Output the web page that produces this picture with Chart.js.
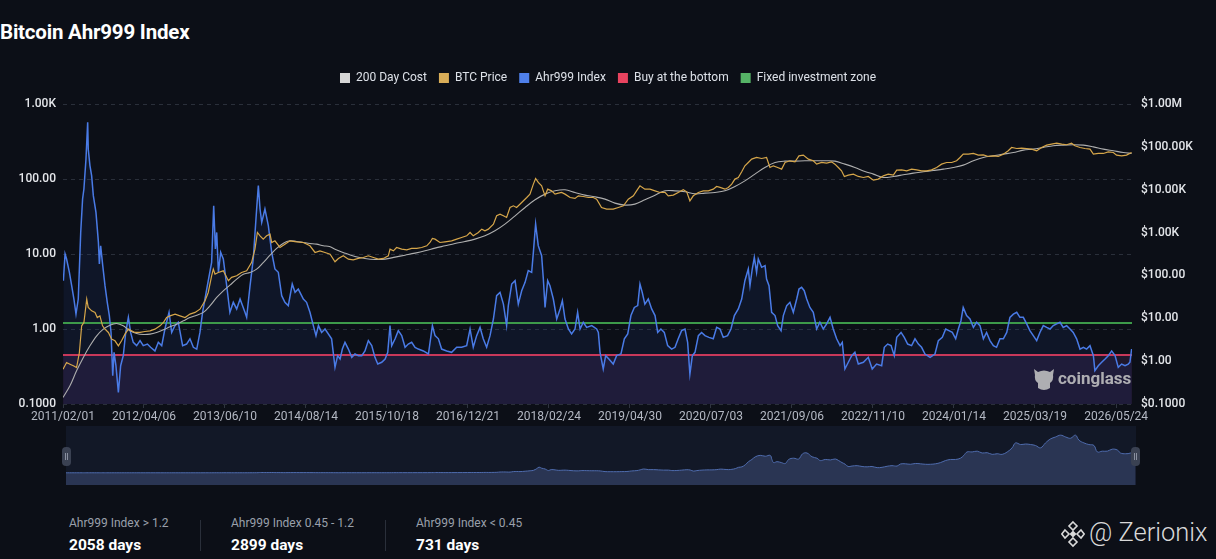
<!DOCTYPE html>
<html><head><meta charset="utf-8">
<script src="https://cdn.jsdelivr.net/npm/chart.js@4.4.1/dist/chart.umd.min.js"></script>
<style>
html,body{margin:0;padding:0;background:#0c0f17;width:1216px;height:559px;overflow:hidden;font-family:Roboto,"Noto Sans",sans-serif;}
#title{position:absolute;left:0;top:20px;font-size:20.5px;font-weight:700;color:#fff;line-height:24px;letter-spacing:-0.2px;}
#main{position:absolute;left:0;top:60px;width:1216px;height:370px;}
#nav{position:absolute;left:66px;top:426px;width:1070px;height:59px;background:#121827;}
.handle{position:absolute;width:9px;height:19px;border-radius:4px;background:#3a4152;top:447px;z-index:3;}
.handle:after{content:"";position:absolute;left:3px;top:6px;width:3px;height:7px;border-left:1px solid #8a90a0;border-right:1px solid #8a90a0;box-sizing:border-box;}
.slab{position:absolute;top:516px;font-size:12px;line-height:14px;color:#9aa0ab;}
.sval{position:absolute;top:536px;font-size:15.5px;line-height:19px;font-weight:700;color:#fff;}
.sdiv{position:absolute;top:520px;width:1px;height:31px;background:#2a2f3a;}
#cg{position:absolute;left:1032px;top:366px;z-index:4;}
#cgt{position:absolute;left:1058px;top:368px;font-size:17px;font-weight:700;color:rgba(200,200,200,0.85);z-index:4;line-height:21px;}
#zl{position:absolute;left:1061px;top:520px;}
#zt{position:absolute;left:1089px;top:517px;font-size:25.5px;color:#d9d9d9;line-height:30px;font-weight:300;}
</style>
</head><body>
<div id="title">Bitcoin Ahr999 Index</div>
<div id="main"><canvas id="c"></canvas></div>
<div id="nav"><canvas id="n"></canvas></div>
<div class="handle" style="left:62px"></div>
<div class="handle" style="left:1131px"></div>
<div id="stats"></div>
<svg id="cg" width="24" height="27" viewBox="0 0 24 27"><path d="M2 3 L6 6 Q12 3 18 6 L22 3 L21 9 Q22 14 18 17 L18 22 Q12 26 6 22 L6 17 Q2 14 3 9 Z" fill="rgba(200,200,200,0.85)"/></svg>
<div id="cgt">coinglass</div>
<svg id="zl" width="24" height="28" viewBox="0 0 24 28"><g fill="none" stroke="#d9d9d9" stroke-width="1.6"><path d="M12 2 L16 6 L12 10 L8 6 Z"/><path d="M12 18 L16 22 L12 26 L8 22 Z"/><path d="M4 10 L8 14 L4 18 L0.8 14 Z"/><path d="M20 10 L23.2 14 L20 18 L16 14 Z"/></g><path d="M12 10.5 L15.5 14 L12 17.5 L8.5 14 Z" fill="#d9d9d9"/></svg>
<div id="zt">@ Zerionix</div>
<script>
// ---------- data ----------
const xTickLabels = ['2011/02/01','2012/04/06','2013/06/10','2014/08/14','2015/10/18','2016/12/21','2018/02/24','2019/04/30','2020/07/03','2021/09/06','2022/11/10','2024/01/14','2025/03/19','2026/05/24'];
const leftTickValues = [0.1, 1, 10, 100, 1000];
const leftTickLabels = ['0.1000','1.00','10.00','100.00','1.00K'];
const rightTickValues = [0.1, 1, 10, 100, 1000, 10000, 100000, 1000000];
const rightTickLabels = ['$0.1000','$1.00','$10.00','$100.00','$1.00K','$10.00K','$100.00K','$1.00M'];
const seriesNames = ['200 Day Cost','BTC Price','Ahr999 Index','Buy at the bottom','Fixed investment zone'];
const lastDay = 5675; // days since 2011/02/01 at the right edge
const buyBottomLevel = 0.45;
const fixedInvestLevel = 1.2;
const statLabels = ['Ahr999 Index > 1.2','Ahr999 Index 0.45 - 1.2','Ahr999 Index < 0.45'];
const statDays = [2058, 2899, 731];

// [days since 2011/02/01, value]
const ahr999 = [[2,4.41],[11,10.0],[19,8.58],[34,5.70],[46,3.78],[58,2.51],[69,1.58],[81,2.51],[94,19.4],[104,54.1],[111,73.6],[122,185],[131,570],[134,251],[143,151],[152,111],[161,60],[175,35.9],[188,14.3],[193,7.36],[200,12.9],[211,6.99],[223,3.78],[235,2.27],[246,1.51],[255,0.90],[264,0.239],[271,0.489],[281,0.324],[294,0.143],[306,0.324],[320,0.441],[333,0.90],[347,1.43],[359,0.90],[373,0.664],[391,0.60],[409,0.70],[426,0.60],[448,0.63],[465,0.57],[488,0.51],[506,0.664],[524,0.60],[541,1.0],[563,1.67],[577,0.90],[594,1.11],[612,1.23],[635,0.60],[656,0.63],[674,0.74],[692,0.57],[710,0.54],[727,0.90],[741,1.67],[763,3.41],[789,7.74],[800,44.1],[809,11.7],[816,19.4],[825,5.70],[837,10.5],[851,8.58],[869,3.78],[886,1.67],[904,2.27],[922,1.85],[940,2.51],[966,1.67],[975,1.43],[993,3.78],[1010,8.58],[1028,39.8],[1037,81.5],[1046,39.8],[1055,26.4],[1072,39.8],[1090,23.9],[1108,10.5],[1125,6.31],[1143,5.70],[1161,2.78],[1178,2.27],[1196,2.05],[1217,3.98],[1232,3.08],[1249,3.41],[1276,2.51],[1293,2.27],[1311,1.67],[1329,1.11],[1343,0.815],[1356,1.11],[1373,0.90],[1391,1.0],
[1426,0.74],[1444,0.308],[1458,0.441],[1471,0.398],[1483,0.54],[1497,0.664],[1515,0.54],[1533,0.419],[1550,0.464],[1568,0.441],[1586,0.441],[1603,0.51],[1621,0.70],[1639,0.60],[1656,0.419],[1671,0.341],[1692,0.36],[1710,0.398],[1724,0.489],[1736,1.11],[1745,0.60],[1763,0.74],[1780,0.95],[1798,0.815],[1816,0.57],[1833,0.63],[1851,0.664],[1869,0.57],[1886,0.54],[1913,0.51],[1940,0.464],[1961,1.11],[1975,0.815],[1993,0.74],[2010,0.54],[2037,0.51],[2063,0.489],[2090,0.57],[2116,0.57],[2143,0.60],[2161,1.0],[2178,0.57],[2196,0.815],[2214,1.05],[2231,0.74],[2249,0.57],[2267,0.815],[2285,1.36],[2302,2.78],[2320,3.08],[2338,2.15],[2355,1.11],[2364,2.05],[2382,3.98],[2400,4.41],[2417,2.15],[2435,3.24],[2453,4.19],[2470,6.0],[2488,5.70],[2497,10.5],[2509,25.1],[2523,12.9],[2541,9.5],[2550,4.64],[2559,1.94],[2573,4.41],[2585,3.78],[2603,2.51],[2621,1.36],[2639,1.85],[2651,2.39],[2665,1.36],[2683,1.0],[2700,0.86],[2718,1.0],[2732,1.67],[2745,1.0],[2762,1.23],[2780,1.05],[2807,1.11],[2833,1.0],
[2842,0.90],[2851,0.489],[2868,0.293],[2881,0.441],[2898,0.398],[2921,0.341],[2939,0.441],[2962,0.464],[2980,0.74],[2998,0.86],[3015,1.51],[3033,1.94],[3051,2.05],[3063,3.98],[3075,3.08],[3089,2.15],[3107,2.51],[3125,1.85],[3143,1.51],[3157,0.90],[3174,1.0],[3192,0.90],[3210,0.60],[3231,0.54],[3249,0.57],[3266,0.74],[3284,0.95],[3302,1.0],[3316,0.664],[3328,0.251],[3341,0.441],[3355,0.489],[3373,0.815],[3390,0.90],[3408,0.815],[3429,0.774],[3452,0.74],[3470,1.05],[3488,1.0],[3505,0.774],[3528,0.815],[3546,1.0],[3564,1.51],[3585,1.85],[3603,2.51],[3620,4.41],[3638,6.31],[3647,3.78],[3659,6.31],[3670,9.03],[3682,5.70],[3691,8.58],[3709,6.64],[3727,6.99],[3735,4.64],[3748,3.78],[3762,1.67],[3780,1.51],[3794,1.11],[3812,0.95],[3824,1.51],[3842,2.05],[3859,2.27],[3877,1.67],[3895,2.51],[3907,3.41],[3921,3.59],[3935,3.24],[3948,2.51],[3965,1.94],[3983,1.67],[4001,1.0],[4018,1.23],[4036,1.0],[4054,1.17],[4072,1.43],[4089,1.0],[4107,0.74],[4125,0.60],[4137,0.664],[4151,0.293],[4169,0.36],[4187,0.441],[4204,0.489],[4222,0.341],[4249,0.36],[4275,0.419],
[4296,0.293],[4319,0.341],[4346,0.324],[4360,0.57],[4378,0.63],[4396,0.60],[4413,0.441],[4426,0.774],[4449,0.90],[4466,0.774],[4484,0.63],[4505,0.60],[4523,0.74],[4541,0.63],[4558,0.57],[4576,0.464],[4603,0.419],[4629,0.464],[4647,0.70],[4668,0.774],[4686,1.0],[4703,0.95],[4721,0.90],[4739,0.74],[4753,1.0],[4767,1.29],[4779,1.94],[4797,1.51],[4815,1.36],[4833,1.05],[4850,1.23],[4868,1.11],[4886,0.74],[4903,0.90],[4921,0.70],[4939,0.60],[4956,0.57],[4974,0.74],[4992,0.74],[5010,0.90],[5027,1.43],[5045,1.58],[5063,1.67],[5080,1.43],[5098,1.43],[5116,1.17],[5133,0.95],[5151,0.815],[5169,0.70],[5186,0.90],[5204,1.11],[5222,1.05],[5240,1.0],[5257,1.11],[5275,1.17],[5293,1.23],[5310,1.05],[5328,1.11],[5346,1.0],[5363,0.90],[5381,0.74],[5399,0.54],[5417,0.57],[5434,0.54],[5452,0.60],[5470,0.441],[5478,0.278],[5496,0.324],[5514,0.36],[5532,0.398],[5549,0.441],[5567,0.51],[5585,0.441],[5602,0.308],[5620,0.341],[5638,0.324],[5655,0.341],[5664,0.36],[5673,0.54]];

const btcPrice = [[0,0.65],[19,0.93],[37,0.85],[55,0.78],[72,0.71],[87,1.59],[99,6.67],[111,7.98],[126,28.0],[134,17.9],[152,14.9],[170,13.7],[182,10.4],[196,11.4],[210,6.67],[223,5.58],[241,4.67],[258,3.26],[276,2.98],[294,2.28],[311,2.98],[329,4.27],[347,5.58],[364,5.10],[382,4.67],[409,4.67],[435,4.92],[462,5.10],[488,5.58],[515,6.67],[533,7.98],[550,10.4],[568,11.4],[595,12.5],[621,11.4],[648,10.4],[674,12.5],[701,13.7],[727,16.3],[754,25.6],[771,40.0],[789,98],[798,140],[807,107],[824,117],[851,128],[878,75],[895,90],[922,98],[948,117],[975,128],[1001,200],[1019,410],[1032,1005],[1046,840],[1063,703],[1081,840],[1099,919],[1108,587],[1125,642],[1152,449],[1178,537],[1205,642],[1240,609],[1276,587],[1311,491],[1338,343],[1364,375],[1391,343],
[1418,314],[1444,208],[1462,249],[1488,287],[1515,240],[1541,231],[1568,249],[1594,262],[1621,287],[1648,262],[1674,240],[1701,249],[1727,287],[1736,410],[1754,375],[1771,449],[1798,410],[1825,396],[1851,426],[1878,426],[1904,449],[1931,491],[1948,587],[1961,728],[1975,703],[2001,587],[2028,609],[2063,642],[2090,703],[2116,769],[2143,840],[2161,1005],[2178,840],[2205,1005],[2223,1202],[2240,1099],[2258,1202],[2285,1574],[2302,2461],[2320,2692],[2338,2461],[2355,2250],[2373,3853],[2391,4210],[2408,3853],[2435,5040],[2462,6590],[2479,7890],[2497,13500],[2509,18300],[2523,14800],[2541,12300],[2550,9420],[2559,7210],[2573,10300],[2594,9420],[2612,7890],[2630,8320],[2647,8630],[2665,7890],[2692,6590],[2718,6250],[2736,7210],[2762,6950],[2789,6590],[2815,6590],[2833,6030],
[2859,3853],[2886,3520],[2921,3520],[2948,3853],[2975,4210],[3001,6030],[3028,7210],[3045,9420],[3063,12300],[3089,10300],[3116,10300],[3143,9420],[3169,8630],[3196,8630],[3213,7210],[3240,7470],[3266,8630],[3293,9950],[3311,8940],[3328,5510],[3346,7210],[3373,8630],[3399,9420],[3426,9420],[3452,10300],[3470,11900],[3488,11300],[3514,10300],[3532,11300],[3550,13500],[3567,17700],[3585,19300],[3603,26200],[3620,36100],[3638,43200],[3656,51800],[3682,56500],[3709,53600],[3735,56500],[3744,43200],[3753,33000],[3771,36100],[3794,33000],[3815,30200],[3833,43200],[3859,47300],[3886,44800],[3907,61800],[3930,64100],[3957,51800],[3983,47300],[4001,39500],[4027,43200],[4054,41700],[4080,44800],[4098,39500],[4116,33000],[4133,27600],[4148,20400],[4169,21900],[4196,23100],[4222,20400],[4249,19300],[4275,20400],
[4302,16700],[4328,17700],[4355,21100],[4381,23100],[4408,21900],[4426,28600],[4452,29100],[4479,27600],[4505,30200],[4532,29100],[4558,27600],[4585,27600],[4611,29100],[4638,33000],[4664,39500],[4691,43200],[4718,43200],[4744,47300],[4762,56500],[4779,67600],[4806,67600],[4833,70100],[4859,64100],[4886,65200],[4912,59700],[4939,61800],[4965,59700],[4992,67600],[5018,80900],[5036,96800],[5063,91600],[5089,93300],[5116,91600],[5142,88500],[5169,80900],[5195,96800],[5222,110000],[5248,116000],[5275,122000],[5302,116000],[5328,112000],[5354,122000],[5372,106000],[5399,96800],[5425,91600],[5452,88500],[5470,67600],[5496,70100],[5523,70100],[5549,76600],[5576,73900],[5593,64100],[5620,61800],[5646,64100],[5673,73900]];

const dayCost200 = [[0,0.142],[37,0.266],[72,0.594],[108,1.22],[143,2.28],[179,3.90],[214,5.58],[249,6.92],[285,7.57],[320,6.67],[356,5.10],[391,4.42],[426,4.19],[462,4.27],[497,4.67],[533,5.38],[568,6.32],[603,7.30],[639,8.73],[674,10.4],[710,11.8],[745,13.7],[780,19.5],[816,30.6],[851,43.8],[886,59.3],[922,81.9],[957,107],[993,117],[1028,140],[1063,200],[1099,297],[1134,426],[1170,566],[1205,642],[1240,620],[1276,587],[1311,557],[1346,537],[1382,491],[1414,474],
[1444,410],[1497,331],[1550,277],[1603,249],[1656,236],[1710,240],[1763,267],[1816,297],[1869,331],[1922,375],[1975,433],[2028,491],[2081,557],[2134,620],[2187,703],[2240,840],[2293,1099],[2346,1574],[2400,2461],[2453,3853],[2506,5810],[2559,7890],[2612,9420],[2665,9950],[2718,8630],[2771,7470],[2824,6830],
[2877,6030],[2930,4860],[2983,4370],[3036,4610],[3089,5810],[3143,7470],[3196,9420],[3249,9420],[3302,8940],[3355,8020],[3408,8320],[3461,8630],[3514,9420],[3567,11900],[3620,16100],[3673,23100],[3726,33000],[3780,43200],[3833,46400],[3886,46400],[3939,47300],[3992,47300],[4045,47300],[4098,46400],[4151,39500],[4204,33000],[4257,26700],
[4302,23100],[4355,19300],[4408,20400],[4461,22300],[4514,24400],[4567,26200],[4620,28100],[4673,30200],[4726,33000],[4779,37500],[4833,47300],[4886,56500],[4939,61800],[4992,67600],[5045,73900],[5098,83800],[5151,88500],[5204,96800],[5257,106000],[5310,110000],[5363,112000],[5417,110000],[5470,100000],[5523,88500],[5576,80900],[5629,73900],[5673,70100]];

// ---------- helpers ----------
const toXY = arr => arr.map(p => ({x: p[0], y: p[1]}));
const dayOf = s => Math.round((Date.parse(s.replace(/\//g,'-')) - Date.parse('2011-02-01')) / 864e5);
const xTickDays = xTickLabels.map(dayOf);

// stats
const st = document.getElementById('stats');
const statX = [69, 231, 416];
statLabels.forEach((l, i) => {
  st.insertAdjacentHTML('beforeend', `<div class="slab" style="left:${statX[i]}px">${l}</div><div class="sval" style="left:${statX[i]}px">${statDays[i]} days</div>`);
});
st.insertAdjacentHTML('beforeend', '<div class="sdiv" style="left:200px"></div><div class="sdiv" style="left:385px"></div>');

Chart.defaults.font.family = 'Roboto, "Noto Sans", sans-serif';

const legendFix = {
  id: 'legendFix',
  beforeInit(chart) {
    const fit = chart.legend.fit;
    chart.legend.fit = function () { fit.bind(chart.legend)(); this.height = 44; };
  }
};

new Chart(document.getElementById('c'), {
  type: 'line',
  data: {
    datasets: [
      {label: seriesNames[0], data: toXY(dayCost200), yAxisID: 'yR', borderColor: '#aeaeae', legendColor: '#d6d6d6', borderWidth: 1.1, pointRadius: 0, tension: 0.35, fill: false, order: 2},
      {label: seriesNames[1], data: toXY(btcPrice), yAxisID: 'yR', borderColor: '#d6a64a', legendColor: '#d9ad58', borderWidth: 1.2, pointRadius: 0, tension: 0, fill: false, order: 1},
      {label: seriesNames[2], data: toXY(ahr999), yAxisID: 'yL', borderColor: '#4a7be6', legendColor: '#4f80ea', backgroundColor: 'rgba(30,60,130,0.16)', borderWidth: 1.5, pointRadius: 0, tension: 0, fill: 'start', order: 3},
      {label: seriesNames[3], data: [{x: 0, y: buyBottomLevel}, {x: lastDay, y: buyBottomLevel}], yAxisID: 'yL', borderColor: '#c8385a', legendColor: '#e8435f', backgroundColor: 'rgba(62,36,78,0.40)', borderWidth: 2, pointRadius: 0, fill: 'start', order: 5},
      {label: seriesNames[4], data: [{x: 0, y: fixedInvestLevel}, {x: lastDay, y: fixedInvestLevel}], yAxisID: 'yL', borderColor: '#3d9a4a', legendColor: '#55b366', borderWidth: 2, pointRadius: 0, fill: false, order: 4}
    ]
  },
  options: {
    responsive: true, maintainAspectRatio: false, animation: false, events: [],
    layout: {padding: 0},
    plugins: {
      tooltip: {enabled: false},
      filler: {propagate: false, drawTime: 'beforeDatasetsDraw'},
      legend: {
        position: 'top', align: 'center',
        labels: {
          color: '#dde1e8', font: {size: 12}, boxWidth: 10, boxHeight: 10, padding: 12,
          generateLabels(chart) {
            const items = Chart.defaults.plugins.legend.labels.generateLabels(chart);
            items.sort((a, b) => a.datasetIndex - b.datasetIndex);
            items.forEach(it => {
              const ds = chart.data.datasets[it.datasetIndex];
              it.fillStyle = ds.legendColor; it.strokeStyle = ds.legendColor; it.lineWidth = 0;
            });
            return items;
          }
        }
      }
    },
    scales: {
      x: {
        type: 'linear', min: 0, max: lastDay,
        afterBuildTicks: s => { s.ticks = xTickDays.map(v => ({value: v})); },
        afterFit: s => { s.height = 26; },
        ticks: {callback: (v, i) => xTickLabels[i], color: '#b4b9c4', font: {size: 12}, padding: 2, maxRotation: 0, autoSkip: false},
        grid: {display: true, drawOnChartArea: false, drawTicks: true, tickLength: 4, color: '#2f3440'},
        border: {display: false}
      },
      yL: {
        type: 'logarithmic', position: 'left', min: 0.1, max: 1000,
        afterBuildTicks: s => { s.ticks = leftTickValues.map(v => ({value: v})); },
        afterFit: s => { s.width = 63; },
        ticks: {callback: (v, i) => leftTickLabels[i], color: '#e4e6ea', font: {size: 12, weight: '500'}, padding: 7},
        grid: {color: '#2a2f3a', drawTicks: false, lineWidth: 1},
        border: {display: false, dash: [4, 4]}
      },
      yR: {
        type: 'logarithmic', position: 'right', min: 0.1, max: 1000000,
        afterBuildTicks: s => { s.ticks = rightTickValues.map(v => ({value: v})); },
        afterFit: s => { s.width = 84; },
        ticks: {callback: (v, i) => rightTickLabels[i], color: '#e4e6ea', font: {size: 12, weight: '500'}, padding: 9},
        grid: {display: false, drawTicks: false},
        border: {display: false}
      }
    }
  },
  plugins: [legendFix]
});

// navigator (data shadow of BTC price on a linear scale)
new Chart(document.getElementById('n'), {
  type: 'line',
  data: {datasets: [{data: toXY(btcPrice), borderColor: '#4f6cae', backgroundColor: '#2a3553', borderWidth: 1, pointRadius: 0, tension: 0.4, fill: 'start'}]},
  options: {
    responsive: true, maintainAspectRatio: false, animation: false, events: [],
    layout: {padding: 0},
    plugins: {legend: {display: false}, tooltip: {enabled: false}},
    scales: {
      x: {type: 'linear', min: 0, max: lastDay, display: false},
      y: {type: 'linear', min: -39600, max: 151700, display: false}
    }
  }
});
</script>
</body></html>
